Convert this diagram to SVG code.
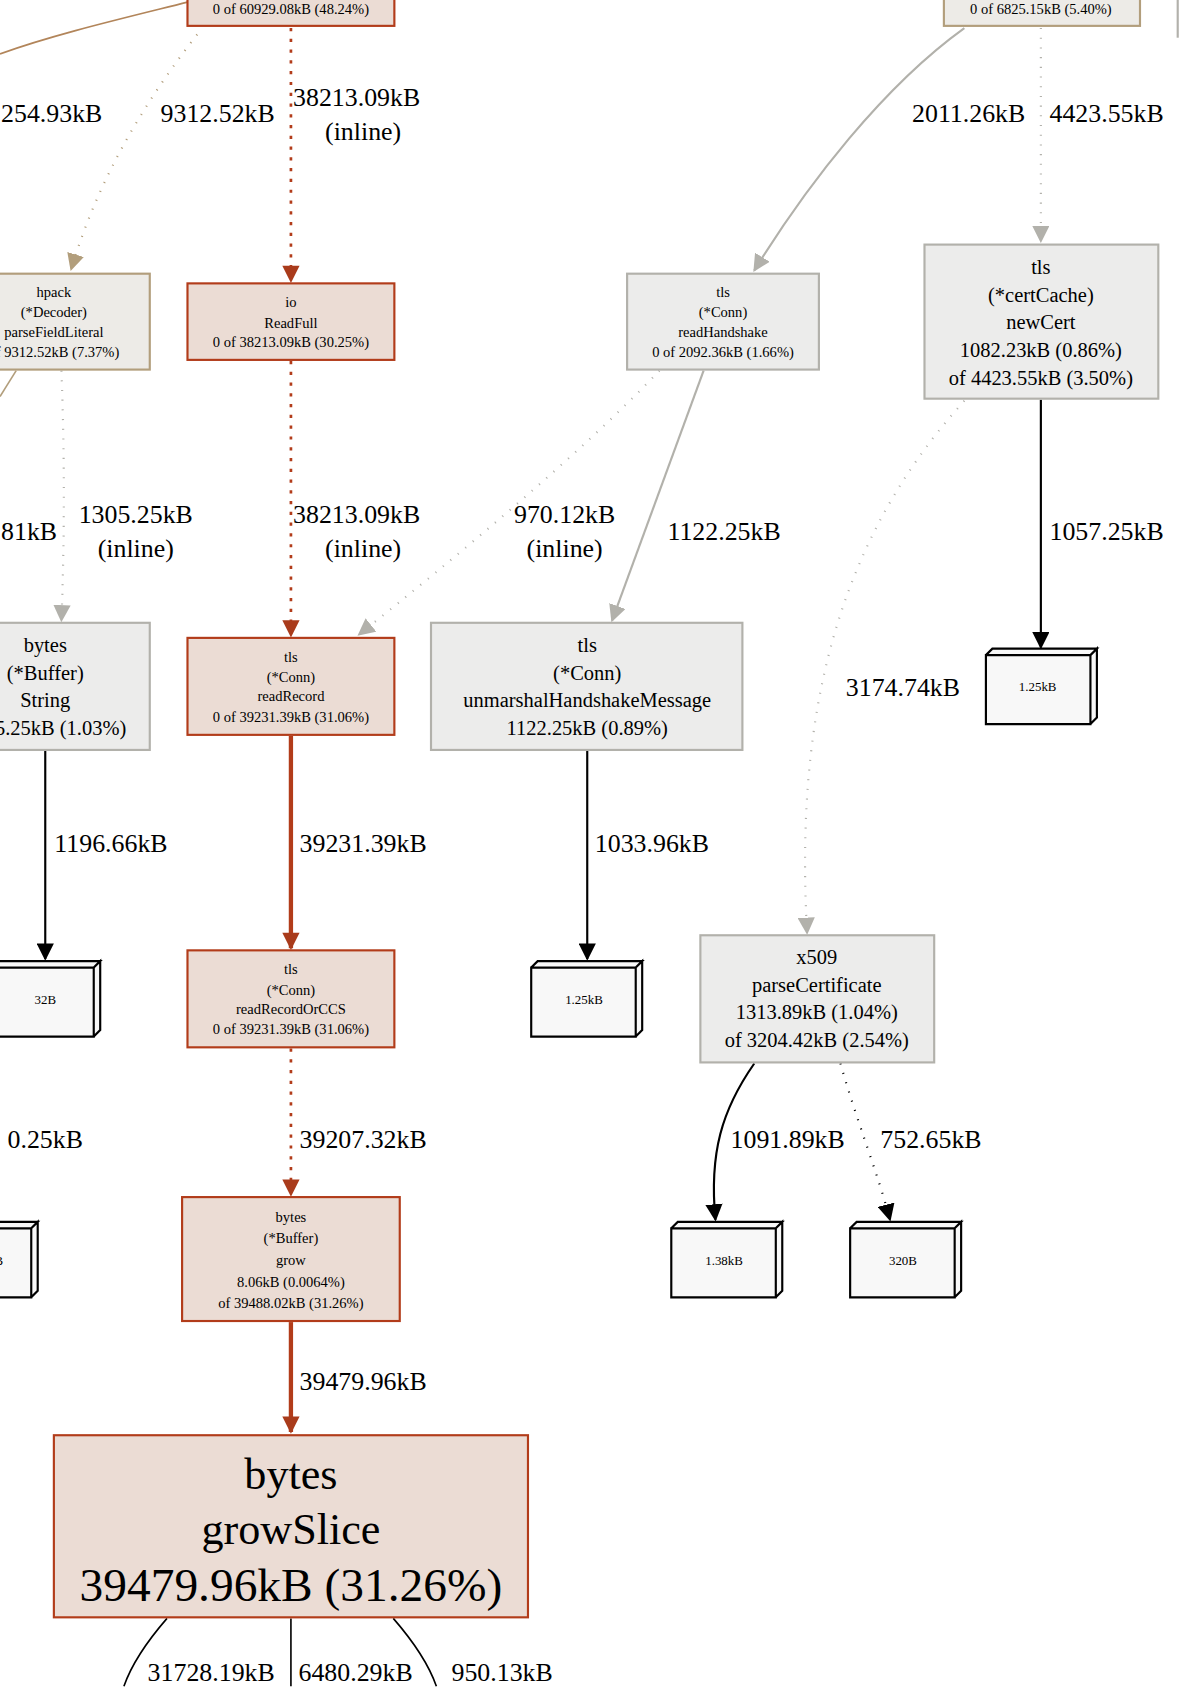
<svg xmlns="http://www.w3.org/2000/svg" width="1182" height="1690" viewBox="0 0 1182 1690">
<style>
text{font-family:"Liberation Serif","Times New Roman",serif;fill:#000;text-anchor:middle}
.el{font-size:24px}
.s{font-size:13.5px}
.m{font-size:19px}
.red{fill:#ebdcd4;stroke:#b23c1a;stroke-width:2}
.tan{fill:#edebe7;stroke:#b29e7c;stroke-width:2}
.gry{fill:#ececeb;stroke:#b2b1ab;stroke-width:2}
.cube{fill:#f8f8f8;stroke:#000;stroke-width:2}
.e{fill:none}
</style>
<defs>
<marker id="ar" viewBox="0 0 10 10" refX="9" refY="5" markerWidth="18" markerHeight="16" orient="auto" markerUnits="userSpaceOnUse"><path d="M0,0L10,5L0,10z" fill="#a93b1b"/></marker>
<marker id="at" viewBox="0 0 10 10" refX="9" refY="5" markerWidth="16" markerHeight="16" orient="auto" markerUnits="userSpaceOnUse"><path d="M0,0L10,5L0,10z" fill="#b29e7c"/></marker>
<marker id="ag" viewBox="0 0 10 10" refX="9" refY="5" markerWidth="16" markerHeight="16" orient="auto" markerUnits="userSpaceOnUse"><path d="M0,0L10,5L0,10z" fill="#b2b1ab"/></marker>
<marker id="ab" viewBox="0 0 10 10" refX="9" refY="5" markerWidth="16" markerHeight="16" orient="auto" markerUnits="userSpaceOnUse"><path d="M0,0L10,5L0,10z" fill="#000"/></marker>
</defs>
<g transform="scale(1.0775)">
<g id="connectors">
<path class="e" d="M174,2 C110,18 50,32 0,50" stroke="#b2855a" stroke-width="1.5"/>
<path class="e" d="M183,32 C130,100 90,170 66,250" stroke="#b29e7c" stroke-width="2" stroke-dasharray="1,8" marker-end="url(#at)"/>
<path class="e" d="M270,26 V261" stroke="#b23c1a" stroke-width="2.5" stroke-dasharray="3,7" marker-end="url(#ar)"/>
<path class="e" d="M15,344 L0,368" stroke="#b29e7c" stroke-width="1.5"/>
<path class="e" d="M57,344 C60,420 60,500 57,576" stroke="#b2b1ab" stroke-width="2" stroke-dasharray="1,8" marker-end="url(#ag)"/>
<path class="e" d="M270,335 V590" stroke="#b23c1a" stroke-width="2.5" stroke-dasharray="3,7" marker-end="url(#ar)"/>
<path class="e" d="M895,26 C820,80 750,170 700,251" stroke="#b2b1ab" stroke-width="2" marker-end="url(#ag)"/>
<path class="e" d="M966,26 V224" stroke="#b2b1ab" stroke-width="2" stroke-dasharray="1,8" marker-end="url(#ag)"/>
<path class="e" d="M612,344 C540,420 420,520 333,589" stroke="#b2b1ab" stroke-width="2" stroke-dasharray="1,8" marker-end="url(#ag)"/>
<path class="e" d="M653,344 L568,576" stroke="#b2b1ab" stroke-width="2" marker-end="url(#ag)"/>
<path class="e" d="M966,371 V601" stroke="#000" stroke-width="2" marker-end="url(#ab)"/>
<path class="e" d="M895,372 C760,520 740,700 749,866" stroke="#b2b1ab" stroke-width="2" stroke-dasharray="1,8" marker-end="url(#ag)"/>
<path class="e" d="M42,697 V890" stroke="#000" stroke-width="2" marker-end="url(#ab)"/>
<path class="e" d="M270,683 V880" stroke="#b23c1a" stroke-width="4" marker-end="url(#ar)"/>
<path class="e" d="M545,697 V890" stroke="#000" stroke-width="2" marker-end="url(#ab)"/>
<path class="e" d="M270,973 V1109" stroke="#b23c1a" stroke-width="2.5" stroke-dasharray="3,7" marker-end="url(#ar)"/>
<path class="e" d="M700,987 C670,1030 658,1070 664,1132" stroke="#000" stroke-width="2" marker-end="url(#ab)"/>
<path class="e" d="M780,987 C795,1040 815,1090 826,1132" stroke="#000" stroke-width="2" stroke-dasharray="1,8" marker-end="url(#ab)"/>
<path class="e" d="M270,1227 V1329" stroke="#b23c1a" stroke-width="4" marker-end="url(#ar)"/>
<path class="e" d="M155,1502 C135,1525 122,1545 115,1565" stroke="#000" stroke-width="1.5"/>
<path class="e" d="M270,1502 V1565" stroke="#000" stroke-width="1.5"/>
<path class="e" d="M365,1502 C385,1525 398,1545 405,1565" stroke="#000" stroke-width="1.5"/>
<path class="e" d="M1093,0 V35" stroke="#b2b1ab" stroke-width="2"/>
<text class="el" x="95" y="113" style="text-anchor:end">254.93kB</text>
<text class="el" x="202" y="113">9312.52kB</text>
<text class="el" x="272" y="98" style="text-anchor:start">38213.09kB</text>
<text class="el" x="337" y="130">(inline)</text>
<text class="el" x="899" y="113">2011.26kB</text>
<text class="el" x="1027" y="113">4423.55kB</text>
<text class="el" x="53" y="501" style="text-anchor:end">81kB</text>
<text class="el" x="126" y="485">1305.25kB</text>
<text class="el" x="126" y="517">(inline)</text>
<text class="el" x="272" y="485" style="text-anchor:start">38213.09kB</text>
<text class="el" x="337" y="517">(inline)</text>
<text class="el" x="524" y="485">970.12kB</text>
<text class="el" x="524" y="517">(inline)</text>
<text class="el" x="672" y="501">1122.25kB</text>
<text class="el" x="1027" y="501">1057.25kB</text>
<text class="el" x="838" y="646">3174.74kB</text>
<text class="el" x="103" y="791">1196.66kB</text>
<text class="el" x="337" y="791">39231.39kB</text>
<text class="el" x="605" y="791">1033.96kB</text>
<text class="el" x="77" y="1065" style="text-anchor:end">0.25kB</text>
<text class="el" x="337" y="1065">39207.32kB</text>
<text class="el" x="731" y="1065">1091.89kB</text>
<text class="el" x="864" y="1065">752.65kB</text>
<text class="el" x="337" y="1290">39479.96kB</text>
<text class="el" x="196" y="1560">31728.19kB</text>
<text class="el" x="330" y="1560">6480.29kB</text>
<text class="el" x="466" y="1560">950.13kB</text>
</g>
<g id="n_top"><rect class="red" x="174" y="-20" width="192" height="44"/><text class="s" x="270" y="13">0 of 60929.08kB (48.24%)</text></g>
<g id="n_top2"><rect class="tan" x="876" y="-20" width="182" height="44"/><text class="s" x="966" y="13">0 of 6825.15kB (5.40%)</text></g>
<g id="n_hpack"><rect class="tan" x="-40" y="254" width="179" height="89"/><text class="s" x="50" y="276">hpack</text><text class="s" x="50" y="294">(*Decoder)</text><text class="s" x="50" y="313">parseFieldLiteral</text><text class="s" x="50" y="331">of 9312.52kB (7.37%)</text></g>
<g id="n_readfull"><rect class="red" x="174" y="263" width="192" height="71"/><text class="s" x="270" y="285">io</text><text class="s" x="270" y="304">ReadFull</text><text class="s" x="270" y="322">0 of 38213.09kB (30.25%)</text></g>
<g id="n_readhs"><rect class="gry" x="582" y="254" width="178" height="89"/><text class="s" x="671" y="276">tls</text><text class="s" x="671" y="294">(*Conn)</text><text class="s" x="671" y="313">readHandshake</text><text class="s" x="671" y="331">0 of 2092.36kB (1.66%)</text></g>
<g id="n_certcache"><rect class="gry" x="858" y="227" width="217" height="143"/><text class="m" x="966" y="254">tls</text><text class="m" x="966" y="280">(*certCache)</text><text class="m" x="966" y="305">newCert</text><text class="m" x="966" y="331">1082.23kB (0.86%)</text><text class="m" x="966" y="357">of 4423.55kB (3.50%)</text></g>
<g id="n_bufstring"><rect class="gry" x="-60" y="578" width="199" height="118"/><text class="m" x="42" y="605">bytes</text><text class="m" x="42" y="631">(*Buffer)</text><text class="m" x="42" y="656">String</text><text class="m" x="42" y="682">1305.25kB (1.03%)</text></g>
<g id="n_readrecord"><rect class="red" x="174" y="592" width="192" height="90"/><text class="s" x="270" y="614">tls</text><text class="s" x="270" y="633">(*Conn)</text><text class="s" x="270" y="651">readRecord</text><text class="s" x="270" y="670">0 of 39231.39kB (31.06%)</text></g>
<g id="n_unmarshal"><rect class="gry" x="400" y="578" width="289" height="118"/><text class="m" x="545" y="605">tls</text><text class="m" x="545" y="631">(*Conn)</text><text class="m" x="545" y="656">unmarshalHandshakeMessage</text><text class="m" x="545" y="682">1122.25kB (0.89%)</text></g>
<g id="n_c1"><path class="cube" d="M915,608h97v64h-97z M915,608l6,-6h97l-6,6 M1012,608l6,-6v64l-6,6"/><text class="s" x="963" y="641" style="font-size:12px">1.25kB</text></g>
<g id="n_c32"><path class="cube" d="M-10,898h97v64h-97z M-10,898l6,-6h97l-6,6 M87,898l6,-6v64l-6,6"/><text class="s" x="42" y="932" style="font-size:12px">32B</text></g>
<g id="n_rroccs"><rect class="red" x="174" y="882" width="192" height="90"/><text class="s" x="270" y="904">tls</text><text class="s" x="270" y="923">(*Conn)</text><text class="s" x="270" y="941">readRecordOrCCS</text><text class="s" x="270" y="960">0 of 39231.39kB (31.06%)</text></g>
<g id="n_c2"><path class="cube" d="M493,898h97v64h-97z M493,898l6,-6h97l-6,6 M590,898l6,-6v64l-6,6"/><text class="s" x="542" y="932" style="font-size:12px">1.25kB</text></g>
<g id="n_x509"><rect class="gry" x="650" y="868" width="217" height="118"/><text class="m" x="758" y="895">x509</text><text class="m" x="758" y="921">parseCertificate</text><text class="m" x="758" y="946">1313.89kB (1.04%)</text><text class="m" x="758" y="972">of 3204.42kB (2.54%)</text></g>
<g id="n_cl"><path class="cube" d="M-68,1140h97v64h-97z M-68,1140l6,-6h97l-6,6 M29,1140l6,-6v64l-6,6"/><text class="s" x="-10" y="1174" style="font-size:12px">320B</text></g>
<g id="n_grow"><rect class="red" x="169" y="1111" width="202" height="115"/><text class="s" x="270" y="1134">bytes</text><text class="s" x="270" y="1154">(*Buffer)</text><text class="s" x="270" y="1174">grow</text><text class="s" x="270" y="1194">8.06kB (0.0064%)</text><text class="s" x="270" y="1214">of 39488.02kB (31.26%)</text></g>
<g id="n_c138"><path class="cube" d="M623,1140h97v64h-97z M623,1140l6,-6h97l-6,6 M720,1140l6,-6v64l-6,6"/><text class="s" x="672" y="1174" style="font-size:12px">1.38kB</text></g>
<g id="n_c320"><path class="cube" d="M789,1140h97v64h-97z M789,1140l6,-6h97l-6,6 M886,1140l6,-6v64l-6,6"/><text class="s" x="838" y="1174" style="font-size:12px">320B</text></g>
<g id="n_growslice"><rect class="red" x="50" y="1332" width="440" height="169"/><text x="270" y="1382" style="font-size:41px">bytes</text><text x="270" y="1433" style="font-size:41px">growSlice</text><text x="270" y="1486" style="font-size:44px">39479.96kB (31.26%)</text></g>
</g>
</svg>
